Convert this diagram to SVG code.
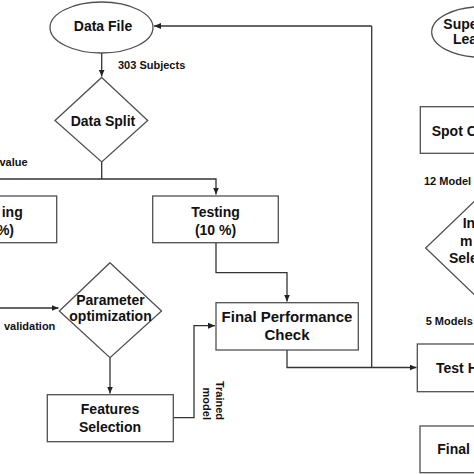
<svg xmlns="http://www.w3.org/2000/svg" width="474" height="474" viewBox="0 0 474 474">
<defs>
<marker id="arr" markerUnits="userSpaceOnUse" markerWidth="8" markerHeight="6" refX="7" refY="3" orient="auto">
<path d="M0,0 L7,3 L0,6 z" fill="#222"/>
</marker>
<style>
.shape{fill:#fff;stroke:#505050;stroke-width:1.3}
.conn{fill:none;stroke:#333;stroke-width:1.3}
.t{font-family:"Liberation Sans",Arial,sans-serif;font-weight:bold;fill:#111;font-size:14px}
.s{font-size:11px}
.m{text-anchor:middle}
.e{text-anchor:end}
.b{font-size:15px}
</style>
</defs>
<rect width="474" height="474" fill="#fff"/>

<g id="connectors">
<path class="conn" d="M101.7,53 V76.5" marker-end="url(#arr)"/>
<path class="conn" d="M101.7,162 V179 M0,179 H216 V194.5" marker-end="url(#arr)"/>
<path class="conn" d="M371.7,26 H154" marker-end="url(#arr)"/>
<path class="conn" d="M371.7,26 V367.5"/>
<path class="conn" d="M216,243 V272.7 H287 V301.5" marker-end="url(#arr)"/>
<path class="conn" d="M287,350 V367.5 H416.5" marker-end="url(#arr)"/>
<path class="conn" d="M0,308 H58.5" marker-end="url(#arr)"/>
<path class="conn" d="M110,357.7 V393.5" marker-end="url(#arr)"/>
<path class="conn" d="M173.3,417.7 H194 V325.7 H215" marker-end="url(#arr)"/>
</g>

<g id="data-file">
<ellipse class="shape" cx="101.5" cy="27.5" rx="51.5" ry="25.5"/>
<text class="t m" x="103" y="30.5">Data File</text>
</g>
<text class="t s" x="118" y="69.3">303 Subjects</text>

<g id="data-split">
<polygon class="shape" points="101.7,77.5 147.7,120.5 101.7,162 55,120.5"/>
<text class="t m" x="103" y="126">Data Split</text>
</g>
<text class="t s" x="-0.5" y="166">value</text>

<g id="training">
<rect class="shape" x="-10" y="196" width="66.7" height="46.7"/>
<text class="t e" x="22.7" y="217">ing</text>
<text class="t e" x="14" y="235">%)</text>
</g>

<g id="testing">
<rect class="shape" x="152.7" y="196" width="125.6" height="46.7"/>
<text class="t m" x="215.5" y="217">Testing</text>
<text class="t m" x="215.5" y="235">(10 %)</text>
</g>

<g id="parameter-optimization">
<polygon class="shape" points="110,262.7 161.5,311 110,357.7 59.3,311"/>
<text class="t m" x="110.5" y="305">Parameter</text>
<text class="t m" x="110.5" y="321">optimization</text>
</g>
<text class="t s" x="4" y="330">validation</text>

<g id="features-selection">
<rect class="shape" x="47.3" y="394.7" width="126" height="47"/>
<text class="t m" x="110" y="414">Features</text>
<text class="t m" x="110" y="432">Selection</text>
</g>
<text class="t s e" transform="translate(216,420) rotate(90)">Trained</text>
<text class="t s e" transform="translate(203,420) rotate(90)">model</text>

<g id="final-performance-check">
<rect class="shape" x="216" y="302.7" width="142.3" height="47.3"/>
<text class="t m b" x="287" y="322">Final Performance</text>
<text class="t m b" x="287" y="340">Check</text>
</g>

<g id="supervised-learning">
<ellipse class="shape" cx="482" cy="32" rx="50.3" ry="25.3"/>
<text class="t" x="443.3" y="28.5">Supe</text>
<text class="t" x="453" y="43.5">Lea</text>
</g>

<g id="spot-check">
<rect class="shape" x="420.3" y="106.7" width="80" height="46.6"/>
<text class="t" x="431.7" y="136">Spot C</text>
</g>
<text class="t s" x="424" y="185">12 Model</text>

<g id="initial-model-selection">
<polygon class="shape" points="482,194 538,248 482,302 425.7,248"/>
<text class="t" x="462.7" y="228.3">In</text>
<text class="t" x="460" y="246">m</text>
<text class="t" x="449" y="263.3">Sele</text>
</g>
<text class="t s" x="425.7" y="325">5 Models</text>

<g id="test-holdout">
<rect class="shape" x="417.3" y="344" width="80" height="47.7"/>
<text class="t" x="436" y="373">Test H</text>
</g>

<g id="final">
<rect class="shape" x="420" y="426" width="80" height="46.7"/>
<text class="t" x="437.3" y="454">Final</text>
</g>
</svg>
